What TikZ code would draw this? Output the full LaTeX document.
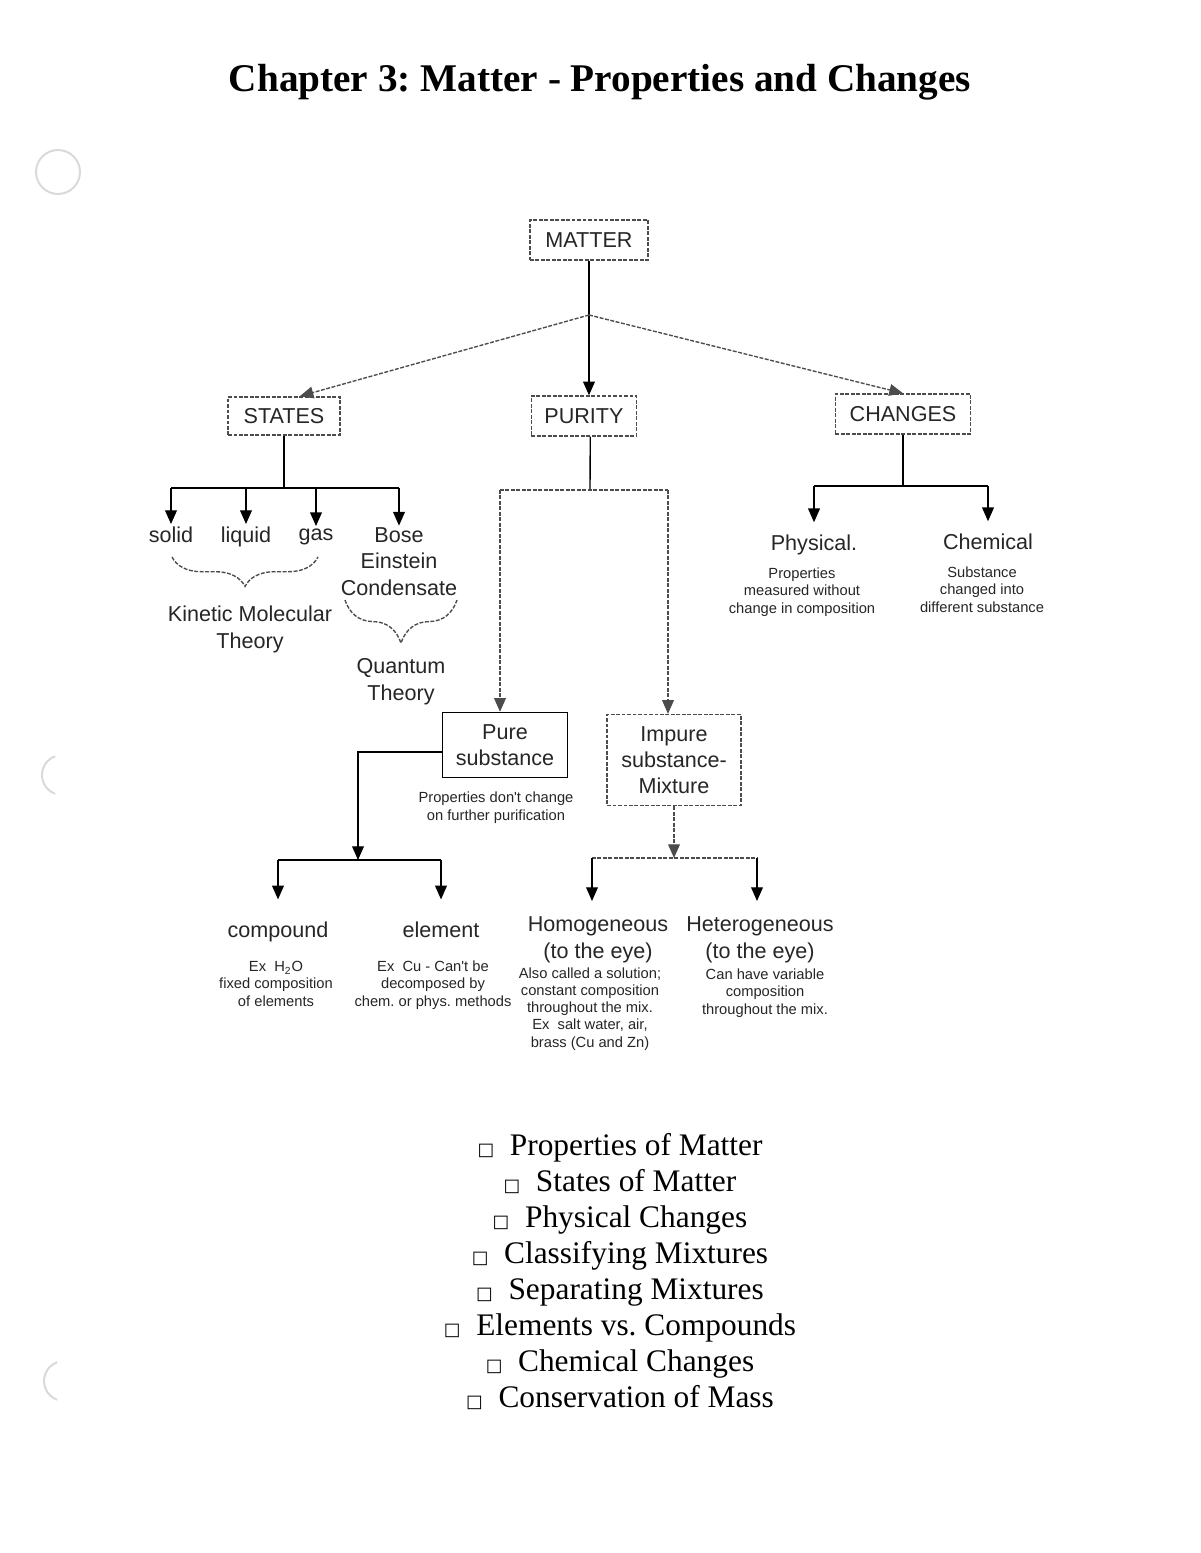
\documentclass[tikz,border=0pt]{standalone}
\usepackage{fontspec}
\setmainfont{Liberation Serif}
\newfontfamily\arialf{Liberation Sans}
\newfontfamily\djv{DejaVu Sans}
\usetikzlibrary{arrows.meta,decorations.pathreplacing,calc}
\newcommand\cb{{\djv\fontsize{9}{9}\selectfont □}}
\frenchspacing
\begin{document}
\frenchspacing
\begin{tikzpicture}[x=0.51pt,y=-0.51pt,
  lab/.style={font=\arialf\fontsize{11}{13.3}\selectfont, text=black!85, align=center, inner sep=1pt, anchor=base},
  sml/.style={font=\arialf\fontsize{7.5}{8.7}\selectfont, text=black!85, align=center, inner sep=0pt, anchor=base},
  box/.style={font=\arialf\fontsize{11}{13.3}\selectfont, text=black!85, align=center, inner sep=0pt, line width=0.7pt},
  dbox/.style={draw=black!70, dash pattern=on 2pt off 0.8pt},
  sbox/.style={draw=black},
  dsh/.style={draw=black!70, dash pattern=on 2pt off 0.8pt},
  ln/.style={line width=0.7pt},
  arr/.style={ln, -{Triangle[width=6pt,length=7pt]}},
  chk/.style={font=\fontsize{16}{18}\selectfont, anchor=base, inner sep=0pt},
  hole/.style={draw=black!15, line width=1pt}
]
\useasboundingbox (0,0) rectangle (1200,1553);
\fill[white] (0,0) rectangle (1200,1553);

% binder holes
\draw[hole] (58,172) circle[radius=22];
\draw[hole] (62,775) ++(110:20) arc[start angle=110,end angle=250,radius=20];
\draw[hole] (64,1381) ++(110:20) arc[start angle=110,end angle=250,radius=20];

% title
\node[anchor=base, inner sep=0pt, font=\bfseries\fontsize{20}{24}\selectfont] (title) at (600,92) {Chapter 3: Matter - Properties and Changes};

% boxes
\node[box,dbox,minimum width=60.2pt,minimum height=20.4pt] (matter) at (589,240) {MATTER};
\node[box,dbox,minimum width=57.1pt,minimum height=19.4pt] (states) at (284,416) {STATES};
\node[box,dbox,minimum width=53.6pt,minimum height=20.4pt] (purity) at (584,416) {PURITY};
\node[box,dbox,minimum width=68.9pt,minimum height=20.4pt] (changes) at (903,414) {CHANGES};
\node[box,sbox,minimum width=63.8pt,minimum height=33.2pt] (pure) at (505,745) {Pure\\substance};
\node[box,dbox,minimum width=68.3pt,minimum height=46.4pt] (impure) at (674,760) {Impure\\substance-\\Mixture};

% matter connectors
\coordinate (j1) at (589,315);
\draw[ln] (matter.south) -- (j1);
\draw[arr] (j1) -- (j1 |- purity.north);
\draw[arr,dsh] (j1) -- ([xshift=8pt]states.north);
\draw[arr,dsh] (j1) -- (changes.north);

% states
\node[lab] (solid) at (171,542) {solid};
\node[lab] (liquid) at (246,542) {liquid};
\node[lab] (gas) at (316,540) {gas};
\node[lab] (bec) at (399,595) {Bose\\Einstein\\Condensate};
\coordinate (hs) at (284,488);
\draw[ln] (states.south) -- (states.south |- hs);
\draw[ln] (solid.north |- hs) -- (bec.north |- hs);
\foreach \n in {solid,liquid,gas,bec} \draw[arr] (\n.north |- hs) -- (\n.north);
\draw[ln,dsh,decorate,decoration={brace,mirror,amplitude=15pt}] (172,557) -- (318,557);
\node[lab] (kmt) at (250,648) {Kinetic Molecular\\Theory};
\draw[ln,dsh,decorate,decoration={brace,mirror,amplitude=22pt}] (345,600) -- (457,600);
\node[lab] (qt) at (401,700) {Quantum\\Theory};

% purity
\coordinate (hp) at (590,490);
\coordinate (pl) at (500,490);
\coordinate (pr) at (668,490);
\draw[ln] ([xshift=3.2pt]purity.south) -- (hp);
\draw[ln,dsh] (pl) -- (pr);
\draw[arr,dsh] (pl) -- (pl |- pure.north);
\draw[arr,dsh] (pr) -- (pr |- impure.north);
\node[sml] (purecap) at (496,820) {Properties don't change\\on further purification};

% pure substance branch
\coordinate (hb) at (358,860);
\node[lab] (compound) at (278,937) {compound};
\node[lab] (element) at (441,937) {element};
\draw[arr] ([yshift=-3.6pt]pure.west) -| (hb);
\draw[ln] (compound.north |- hb) -- (element.north |- hb);
\draw[arr,shorten >=10pt] (compound.north |- hb) -- (compound.north);
\draw[arr,shorten >=10pt] (element.north |- hb) -- (element.north);
\node[sml] (cmpx) at (276,1006) {Ex\ \ H\textsubscript{2}O\\fixed composition\\of elements};
\node[sml] (elx) at (433,1006) {Ex\ \ Cu - Can't be\\decomposed by\\chem. or phys. methods};

% mixture branch
\coordinate (hm) at (674,858);
\coordinate (ml) at (592,858);
\coordinate (mr) at (757,858);
\node[lab] (homo) at (598,958) {Homogeneous\\(to the eye)};
\node[lab] (hetero) at (760,958) {Heterogeneous\\(to the eye)};
\draw[arr,dsh] (impure.south) -- (hm);
\draw[ln,dsh] (ml) -- (mr);
\draw[arr,shorten >=7pt] (ml) -- (ml |- homo.north);
\draw[arr,shorten >=7pt] (mr) -- (mr |- hetero.north);
\node[sml] (homox) at (590,1047) {Also called a solution;\\constant composition\\throughout the mix.\\Ex\ \ salt water, air,\\brass (Cu and Zn)};
\node[sml] (heterox) at (765,1014) {Can have variable\\composition\\throughout the mix.};

% changes
\coordinate (hc) at (903,486);
\node[lab] (phys) at (814,550) {Physical.};
\node[lab] (chem) at (988,549) {Chemical};
\draw[ln] (changes.south) -- (hc);
\draw[ln] (phys.north |- hc) -- (chem.north |- hc);
\draw[arr,shorten >=5pt] (phys.north |- hc) -- (phys.north);
\draw[arr,shorten >=5pt] (chem.north |- hc) -- (chem.north);
\node[sml] (physx) at (802,613) {Properties\\measured without\\change in composition};
\node[sml] (chemx) at (982,612) {Substance\\changed into\\different substance};

% checklist
\foreach \t [count=\i from 0] in {Properties of Matter,States of Matter,Physical Changes,Classifying Mixtures,Separating Mixtures,Elements vs. Compounds,Chemical Changes,Conservation of Mass}
  \node[chk] (c\i) at (620,1155+36*\i) {\cb\hspace{8pt}\t};
\end{tikzpicture}
\end{document}
